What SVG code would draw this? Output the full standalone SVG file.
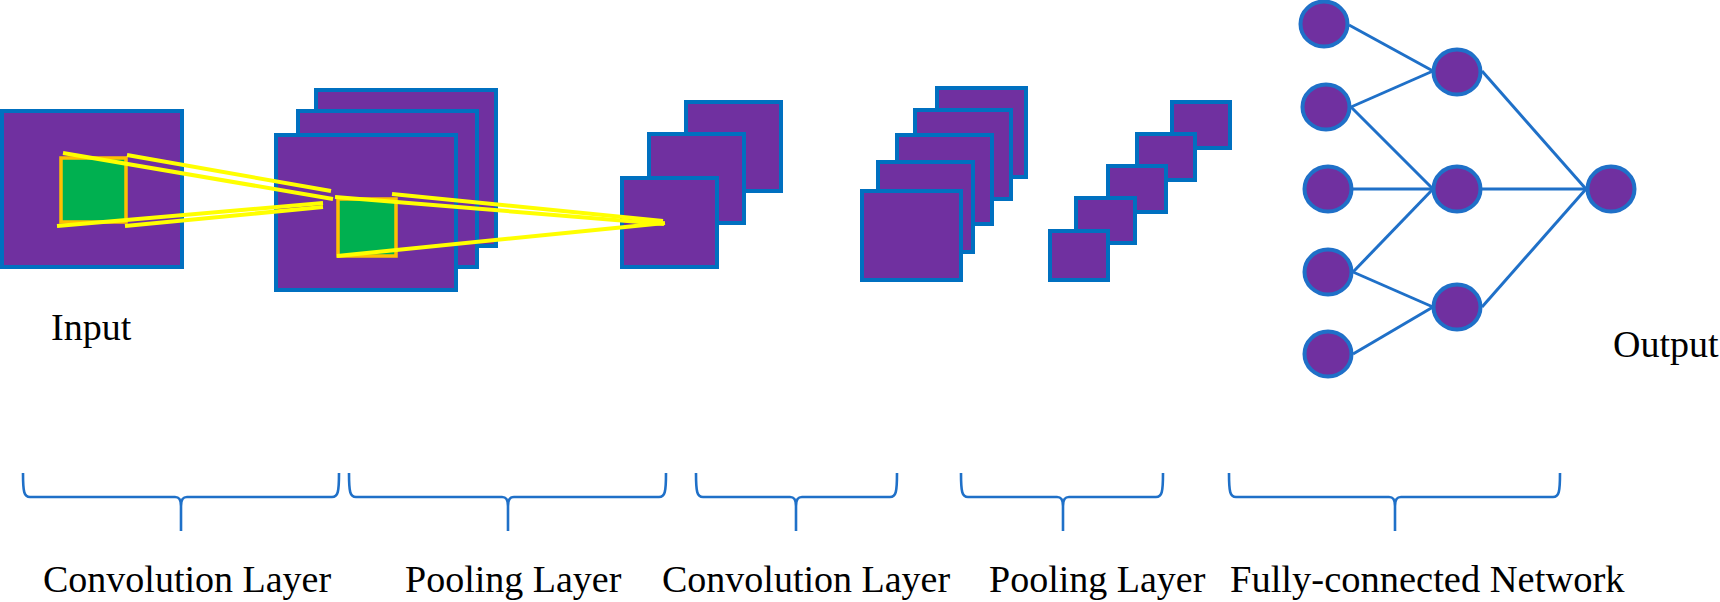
<svg xmlns="http://www.w3.org/2000/svg" width="1720" height="602" viewBox="0 0 1720 602">
<style>
.sq{fill:#7030A0;stroke:#0070C0;stroke-width:4}
.gr{fill:#00B050;stroke:#FFC000;stroke-width:3.5}
.yl{stroke:#FFFF00;stroke-width:4;fill:none;stroke-linecap:butt}
.nd{fill:#7030A0;stroke:#1F70C8;stroke-width:4}
.ed{stroke:#1F70C8;stroke-width:3;fill:none}
.br{stroke:#1F70C8;stroke-width:2.6;fill:none}
.lb{font-family:"Liberation Serif","Times New Roman",serif;font-size:38px;fill:#000}
</style>
<rect width="1720" height="602" fill="#fff"/>
<g id="input-map">
<rect class="sq" x="2" y="111" width="180" height="156"/>
<rect class="gr" x="61" y="158" width="65" height="64"/>
</g>
<g id="conv1-maps">
<rect class="sq" x="316" y="90" width="180" height="156"/>
<rect class="sq" x="298" y="111" width="179" height="156"/>
<rect class="sq" x="276" y="135" width="180" height="155"/>
<rect class="gr" x="338" y="199" width="58" height="57"/>
</g>
<g id="pool1-maps">
<rect class="sq" x="686" y="102" width="95" height="89"/>
<rect class="sq" x="649" y="134" width="95" height="89"/>
<rect class="sq" x="622" y="178" width="95" height="89"/>
</g>
<g id="conv2-maps">
<rect class="sq" x="937" y="88" width="89" height="89"/>
<rect class="sq" x="915" y="110" width="96" height="89"/>
<rect class="sq" x="897" y="135" width="95" height="89"/>
<rect class="sq" x="878" y="162" width="95" height="90"/>
<rect class="sq" x="862" y="191" width="99" height="89"/>
</g>
<g id="pool2-maps">
<rect class="sq" x="1172" y="102" width="58" height="46"/>
<rect class="sq" x="1137" y="134" width="58" height="46"/>
<rect class="sq" x="1108" y="166" width="58" height="46"/>
<rect class="sq" x="1076" y="198" width="59" height="45"/>
<rect class="sq" x="1050" y="231" width="58" height="49"/>
</g>
<g id="connectors">
<line class="yl" x1="63" y1="153" x2="333" y2="199"/>
<line class="yl" x1="127" y1="155" x2="331" y2="191"/>
<line class="yl" x1="57" y1="226" x2="323" y2="203"/>
<line class="yl" x1="125" y1="226" x2="323" y2="207"/>
<line class="yl" x1="335" y1="197" x2="664" y2="224"/>
<line class="yl" x1="392" y1="194" x2="663" y2="221"/>
<line class="yl" x1="337" y1="256" x2="665" y2="223"/>
<line class="ed" x1="1349" y1="25" x2="1433" y2="71"/>
<line class="ed" x1="1351" y1="107" x2="1433" y2="71"/>
<line class="ed" x1="1351" y1="107" x2="1433" y2="189"/>
<line class="ed" x1="1353" y1="189" x2="1433" y2="189"/>
<line class="ed" x1="1353" y1="272" x2="1433" y2="189"/>
<line class="ed" x1="1353" y1="272" x2="1433" y2="307"/>
<line class="ed" x1="1353" y1="354" x2="1433" y2="307"/>
<line class="ed" x1="1482" y1="71" x2="1586" y2="189"/>
<line class="ed" x1="1482" y1="189" x2="1586" y2="189"/>
<line class="ed" x1="1482" y1="307" x2="1586" y2="189"/>
</g>
<g id="input-nodes">
<ellipse class="nd" cx="1324" cy="24" rx="23.5" ry="22.5"/>
<ellipse class="nd" cx="1326" cy="107" rx="23.5" ry="22.5"/>
<ellipse class="nd" cx="1328" cy="189" rx="23.5" ry="22.5"/>
<ellipse class="nd" cx="1328" cy="272" rx="23.5" ry="22.5"/>
<ellipse class="nd" cx="1328" cy="354" rx="23.5" ry="22.5"/>
</g>
<g id="hidden-nodes">
<ellipse class="nd" cx="1457" cy="72" rx="23.5" ry="22.5"/>
<ellipse class="nd" cx="1457" cy="189" rx="23.5" ry="22.5"/>
<ellipse class="nd" cx="1457" cy="307" rx="23.5" ry="22.5"/>
</g>
<g id="output-node">
<ellipse class="nd" cx="1611" cy="189" rx="23.5" ry="22.5"/>
</g>
<g id="braces">
<path class="br" d="M23 473 C23 492 24 497 30 497 L175 497 C179 497 181 499 181 506 L181 531 M181 506 C181 499 183 497 187 497 L332 497 C338 497 339 492 339 473"/>
<path class="br" d="M349 473 C349 492 350 497 356 497 L502 497 C506 497 508 499 508 506 L508 531 M508 506 C508 499 510 497 514 497 L659 497 C665 497 666 492 666 473"/>
<path class="br" d="M696 473 C696 492 697 497 703 497 L790 497 C794 497 796 499 796 506 L796 531 M796 506 C796 499 798 497 802 497 L890 497 C896 497 897 492 897 473"/>
<path class="br" d="M961 473 C961 492 962 497 968 497 L1057 497 C1061 497 1063 499 1063 506 L1063 531 M1063 506 C1063 499 1065 497 1069 497 L1156 497 C1162 497 1163 492 1163 473"/>
<path class="br" d="M1229 473 C1229 492 1230 497 1236 497 L1389 497 C1393 497 1395 499 1395 506 L1395 531 M1395 506 C1395 499 1397 497 1401 497 L1553 497 C1559 497 1560 492 1560 473"/>
</g>
<g id="labels">
<text class="lb" x="51" y="340">Input</text>
<text class="lb" x="1613" y="357">Output</text>
<text class="lb" x="43" y="592">Convolution Layer</text>
<text class="lb" x="405" y="592">Pooling Layer</text>
<text class="lb" x="662" y="592">Convolution Layer</text>
<text class="lb" x="989" y="592">Pooling Layer</text>
<text class="lb" x="1230" y="592" style="font-size:38.5px">Fully-connected Network</text>
</g>
</svg>
